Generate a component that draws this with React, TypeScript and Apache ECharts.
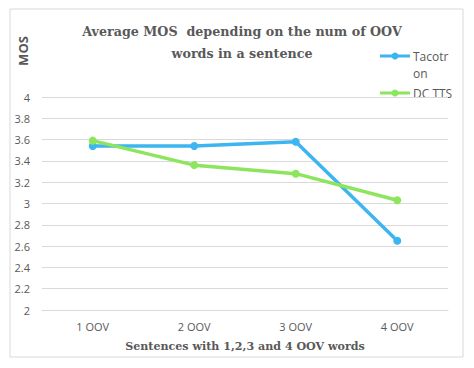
import React, { useEffect, useRef } from "react";
import * as echarts from "echarts";

const categories = ["1 OOV", "2 OOV", "3 OOV", "4 OOV"];
const tacotron = [3.54, 3.54, 3.58, 2.65];
const dctts = [3.59, 3.36, 3.28, 3.03];
const seriesNames = ["Tacotron", "DC TTS"];
const legendLabels = [["Tacotr", "on"], ["DC TTS"]];
const colors = ["#3db5f0", "#8de55e"];

export default function App() {
  const ref = useRef<HTMLDivElement>(null);
  useEffect(() => {
    if (!ref.current) return;
    const chart = echarts.init(ref.current, null, { renderer: "svg" });
    const legendGraphics: any[] = [];
    const legendTops = [56, 93];
    legendLabels.forEach((lines, i) => {
      const y = legendTops[i];
      legendGraphics.push({
        type: "line",
        shape: { x1: 380, y1: y, x2: 410, y2: y },
        style: { stroke: colors[i], lineWidth: 3 },
      });
      legendGraphics.push({
        type: "circle",
        shape: { cx: 395, cy: y, r: 3.5 },
        style: { fill: colors[i] },
      });
      lines.forEach((t, j) => {
        legendGraphics.push({
          type: "text",
          x: 413,
          y: y + j * 17,
          style: {
            text: t,
            fill: "#595959",
            font: '12px "Open Sans"',
            verticalAlign: "middle",
            align: "left",
          },
        });
      });
    });
    chart.setOption({
      animation: false,
      backgroundColor: "#ffffff",
      title: {
        text: "Average MOS  depending on the num of OOV\nwords in a sentence",
        left: 237,
        textAlign: "center",
        top: 15,
        textStyle: {
          fontFamily: '"DejaVu Serif"',
          fontWeight: "bold",
          fontSize: 12.7,
          color: "#595959",
          lineHeight: 22,
        },
      },
      grid: { left: 42, right: 26, top: 97, bottom: 58 },
      xAxis: {
        type: "category",
        data: categories,
        boundaryGap: true,
        name: "Sentences with 1,2,3 and 4 OOV words",
        nameLocation: "middle",
        nameGap: 31,
        nameTextStyle: {
          fontFamily: '"DejaVu Serif"',
          fontWeight: "bold",
          fontSize: 11.1,
          color: "#595959",
        },
        axisLine: { lineStyle: { color: "#d9d9d9" } },
        axisTick: { show: false },
        axisLabel: {
          margin: 11,
          fontFamily: '"Open Sans"',
          fontSize: 11,
          color: "#595959",
        },
      },
      yAxis: {
        type: "value",
        min: 2,
        max: 4,
        interval: 0.2,
        axisLine: { show: false },
        axisTick: { show: false },
        splitLine: { lineStyle: { color: "#d9d9d9" } },
        axisLabel: {
          margin: 12,
          fontFamily: '"Open Sans"',
          fontSize: 11,
          color: "#595959",
          formatter: (v: number) => String(Math.round(v * 10) / 10),
        },
      },
      graphic: [
        {
          type: "rect",
          shape: { x: 10, y: 9, width: 453, height: 348 },
          style: { fill: "none", stroke: "#d9d9d9", lineWidth: 1 },
          silent: true,
        },
        {
          type: "text",
          x: 23,
          y: 51,
          rotation: Math.PI / 2,
          style: {
            text: "MOS",
            fill: "#595959",
            font: 'bold 13px "Open Sans"',
            align: "center",
            verticalAlign: "middle",
          },
        },
        ...legendGraphics,
      ],
      series: [
        {
          name: seriesNames[0],
          type: "line",
          data: tacotron,
          symbol: "circle",
          symbolSize: 8,
          lineStyle: { width: 3.5, color: colors[0] },
          itemStyle: { color: colors[0] },
        },
        {
          name: seriesNames[1],
          type: "line",
          data: dctts,
          symbol: "circle",
          symbolSize: 8,
          lineStyle: { width: 3.5, color: colors[1] },
          itemStyle: { color: colors[1] },
        },
      ],
    });
    return () => chart.dispose();
  }, []);
  return (
    <div
      ref={ref}
      style={{ position: "fixed", left: 0, top: 0, width: 474, height: 368 }}
    />
  );
}
